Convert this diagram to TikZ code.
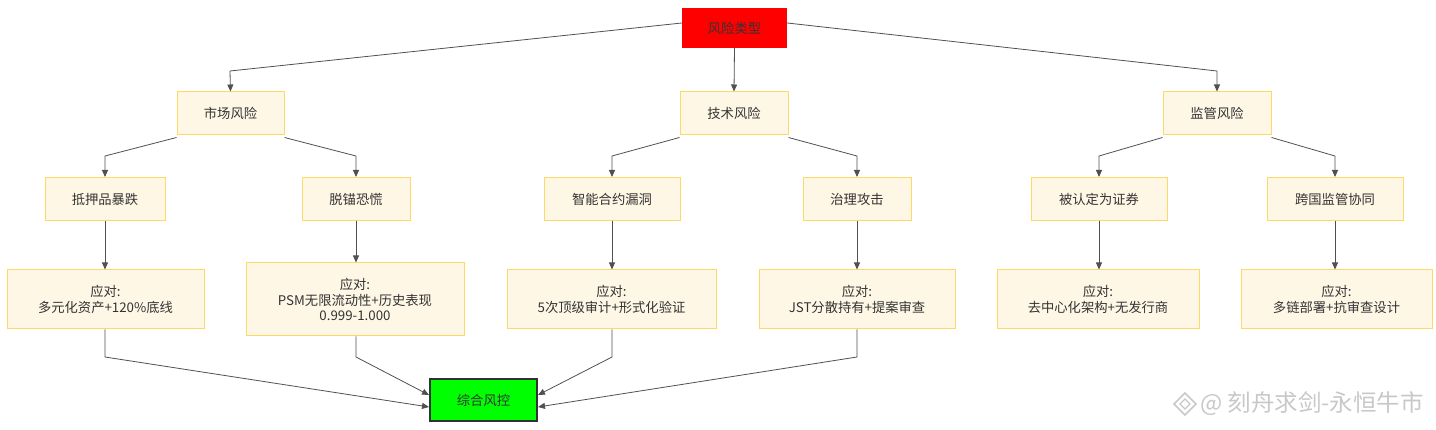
\documentclass[tikz,border=0pt]{standalone}
\usepackage{fontspec}
\setmainfont{Noto Sans CJK SC}
\usetikzlibrary{arrows.meta}
\definecolor{boxfill}{HTML}{FFF7E6}
\definecolor{boxline}{HTML}{FFD966}
\definecolor{linec}{HTML}{505050}
\definecolor{redc}{HTML}{FF0000}
\definecolor{greenc}{HTML}{00FF00}
\definecolor{darkc}{HTML}{333333}
\definecolor{wm}{HTML}{C8C8C8}
\begin{document}
\begin{tikzpicture}[x=1pt,y=-1pt,
  every node/.style={font=\fontsize{13.3}{15.5}\selectfont, text=darkc, align=center, inner sep=0pt},
  riskbox/.style={draw=boxline, fill=boxfill, line width=1pt, minimum height=43pt},
  answerbox/.style={draw=boxline, fill=boxfill, line width=1pt},
  conn/.style={draw=linec, line width=0.8pt, -{Triangle[width=6pt,length=7pt]}}
]
\useasboundingbox (0,0) rectangle (1436,430);

% top
\node[fill=redc, minimum width=105pt, minimum height=40pt] (top) at (734.5,28) {风险类型};

% level 1
\node[riskbox, minimum width=107pt] (m) at (230.5,113.5) {市场风险};
\node[riskbox, minimum width=108pt] (t) at (734,113.5) {技术风险};
\node[riskbox, minimum width=108pt] (r) at (1217,113.5) {监管风险};

% level 2
\node[riskbox, minimum width=120pt] (m1) at (105,199) {抵押品暴跌};
\node[riskbox, minimum width=108pt] (m2) at (356,199) {脱锚恐慌};
\node[riskbox, minimum width=136pt] (t1) at (612,199) {智能合约漏洞};
\node[riskbox, minimum width=108pt] (t2) at (857,199) {治理攻击};
\node[riskbox, minimum width=136pt] (r1) at (1099,199) {被认定为证券};
\node[riskbox, minimum width=136pt] (r2) at (1335,199) {跨国监管协同};

% level 3
\node[answerbox, minimum width=197pt, minimum height=59pt] (a1) at (105.5,299.5) {应对:\\多元化资产+120\%底线};
\node[answerbox, minimum width=218pt, minimum height=73pt] (a2) at (355,299.5) {应对:\\PSM无限流动性+历史表现\\0.999-1.000};
\node[answerbox, minimum width=209pt, minimum height=59pt] (a3) at (611.5,299.5) {应对:\\5次顶级审计+形式化验证};
\node[answerbox, minimum width=196pt, minimum height=59pt] (a4) at (857,299.5) {应对:\\JST分散持有+提案审查};
\node[answerbox, minimum width=202pt, minimum height=59pt] (a5) at (1098,299.5) {应对:\\去中心化架构+无发行商};
\node[answerbox, minimum width=191pt, minimum height=59pt] (a6) at (1336.5,299.5) {应对:\\多链部署+抗审查设计};

% bottom
\node[draw=darkc, fill=greenc, line width=2pt, minimum width=107pt, minimum height=42pt] (fin) at (483.5,400.5) {综合风控};

% connectors top -> level 1
\draw[conn] ([yshift=5pt]top.west) -- (230,71) -- (m.north);
\draw[conn] (top.south) -- (t.north);
\draw[conn] ([yshift=5pt]top.east) -- (1217,71) -- (r.north);

% level 1 -> level 2
\draw[conn] ([yshift=-2pt]m.south west) -- (105,156) -- (m1.north);
\draw[conn] ([yshift=-2pt]m.south east) -- (356,156) -- (m2.north);
\draw[conn] ([yshift=-2pt]t.south west) -- (612,156) -- (t1.north);
\draw[conn] ([yshift=-2pt]t.south east) -- (857,156) -- (t2.north);
\draw[conn] ([yshift=-2pt]r.south west) -- (1099,156) -- (r1.north);
\draw[conn] ([yshift=-2pt]r.south east) -- (1335,156) -- (r2.north);

% level 2 -> level 3
\draw[conn] (m1.south) -- (a1.north -| m1.south);
\draw[conn] (m2.south) -- (a2.north -| m2.south);
\draw[conn] (t1.south) -- (a3.north -| t1.south);
\draw[conn] (t2.south) -- (a4.north -| t2.south);
\draw[conn] (r1.south) -- (a5.north -| r1.south);
\draw[conn] (r2.south) -- (a6.north -| r2.south);

% level 3 -> final
\draw[conn] (a1.south -| m1.south) -- (105,357) -- ([yshift=-6.5pt]fin.west);
\draw[conn] (a2.south -| m2.south) -- (356,357) -- ([yshift=5.5pt]fin.west);
\draw[conn] (a3.south -| t1.south) -- (612,357) -- ([yshift=5.5pt]fin.east);
\draw[conn] (a4.south -| t2.south) -- (857,357) -- ([yshift=-6.5pt]fin.east);

% watermark
\draw[wm, line width=1.5pt] (1185,393) -- (1196,404) -- (1185,415) -- (1174,404) -- cycle;
\draw[wm, line width=1.2pt] (1185,399) -- (1190,404) -- (1185,409) -- (1180,404) -- cycle;
\node[font=\fontsize{23.5}{27}\selectfont, text=wm, anchor=west] (wmtext) at (1200,404) {@ 刻舟求剑-永恒牛市};
\end{tikzpicture}
\end{document}
